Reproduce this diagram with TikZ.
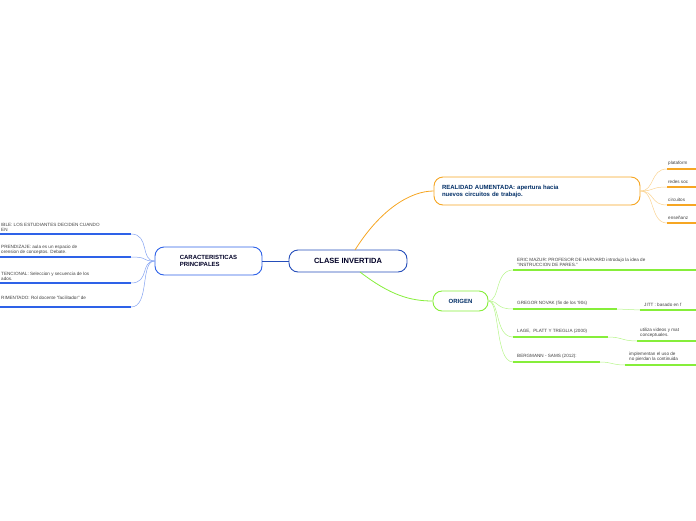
\documentclass[tikz,border=0pt]{standalone}
\usepackage{fontspec}
\setmainfont{Liberation Sans}
\begin{document}
\begin{tikzpicture}[x=1pt,y=-1pt,
 box/.style={draw,rounded corners=9pt,line width=0.9pt,fill=white,font=\bfseries,text=black!80!blue,align=left},
 leaf/.style={font=\fontsize{4.6}{5.6}\selectfont,text=black!75,anchor=south west,align=left,inner sep=1pt},
 bl/.style={draw=blue!80!cyan!70!black,line width=1.2pt},
 ol/.style={draw=orange!80!yellow,line width=1.2pt},
 gl/.style={draw=green!70!lime,line width=1.2pt}]
\useasboundingbox (0,0) rectangle (696,520);
\definecolor{cb}{HTML}{2E62E8}
\definecolor{co}{HTML}{F6A623}
\definecolor{cg}{HTML}{86EE3A}
% central
\node[box,draw=cb!80!black,minimum width=118pt,minimum height=22pt,font=\bfseries\fontsize{7.5}{9}\selectfont,text=black!85!blue] (c) at (348,261) {CLASE INVERTIDA};
\node[box,draw=cb,minimum width=107pt,minimum height=28pt,font=\bfseries\fontsize{6}{7}\selectfont,text=black!85!blue] (car) at (208.5,261) {CARACTERISTICAS\\PRINCIPALES};
\node[box,draw=co,minimum width=206pt,minimum height=28pt,font=\bfseries\fontsize{6}{7}\selectfont,text=black!70!green!60!blue,text width=190pt] (ra) at (537,191) {REALIDAD AUMENTADA: apertura hacia\\nuevos circuitos de trabajo.};
\node[box,draw=cg,minimum width=55pt,minimum height=20pt,font=\bfseries\fontsize{6}{7}\selectfont,text=black!70!green!60!blue] (or) at (460.5,301) {ORIGEN};
\draw[cb!80!black,line width=0.6pt] (c.west) -- (car.east);
\draw[co,line width=0.8pt] (355,250) .. controls (380,210) and (410,191) .. (ra.west);
\draw[cg,line width=0.8pt] (360,272) .. controls (390,295) and (410,301) .. (or.west);
% left leaves
\foreach \y/\t in {234/{IBLE: LOS ESTUDIANTES DECIDEN CUANDO\\EN},257/{PRENDIZAJE: aula es un espacio de\\orension de conceptos. Debate.},283/{TENCIONAL: Seleccion y secuencia de los\\ados.},307/{RIMENTADO: Rol docente "facilitador" de\\\phantom{x}}}{
 \draw[cb,line width=1.2pt] (0,\y) -- (131,\y);
 \node[leaf] at (0,\y-1) {\t};
 \draw[cb!60,line width=0.5pt] (131,\y) .. controls (150,\y) and (140,261) .. (car.west);
}
% RA leaves
\foreach \y/\t in {169/plataform,187/redes soc,205/circuitos,223/enseñanz}{
 \draw[co,line width=1.2pt] (667,\y) -- (696,\y);
 \node[leaf] at (667,\y-2) {\t};
 \draw[co!50,line width=0.5pt] (ra.east) .. controls (655,191) and (650,\y) .. (667,\y);
}
% ORIGEN leaves
\draw[cg,line width=1.2pt] (513,270) -- (696,270);
\node[leaf] at (516,268) {ERIC MAZUR: PROFESOR DE HARVARD introdujo la idea de\\"INSTRUCCION DE PARES."};
\draw[cg,line width=1.2pt] (513,309) -- (617,309);
\node[leaf] at (516,307) {GREGOR NOVAK (fin de los `90s)};
\draw[cg,line width=1.2pt] (513,337) -- (608,337);
\node[leaf] at (516,335) {LAGE,\ \ PLATT Y TREGLIA (2000)};
\draw[cg,line width=1.2pt] (513,362) -- (600,362);
\node[leaf] at (516,360) {BERGMANN - SAMS (2012):};
\foreach \y in {270,309,337,362}
 \draw[cg!60,line width=0.5pt] (or.east) .. controls (500,301) and (495,\y) .. (513,\y);
% second level
\draw[cg,line width=1.2pt] (640,310) -- (696,310);
\node[leaf] at (643,308) {JITT : basado en f};
\draw[cg!60,line width=0.5pt] (617,309) .. controls (628,309) and (628,310) .. (640,310);
\draw[cg,line width=1.2pt] (637,341) -- (696,341);
\node[leaf] at (639,339) {utiliza videos y mat\\conceptuales.};
\draw[cg!60,line width=0.5pt] (608,337) .. controls (622,337) and (622,341) .. (637,341);
\draw[cg,line width=1.2pt] (625,365) -- (696,365);
\node[leaf] at (628,363) {implementan el uso de\\no pierdan la continuida};
\draw[cg!60,line width=0.5pt] (600,362) .. controls (612,362) and (612,365) .. (625,365);
\end{tikzpicture}
\end{document}
